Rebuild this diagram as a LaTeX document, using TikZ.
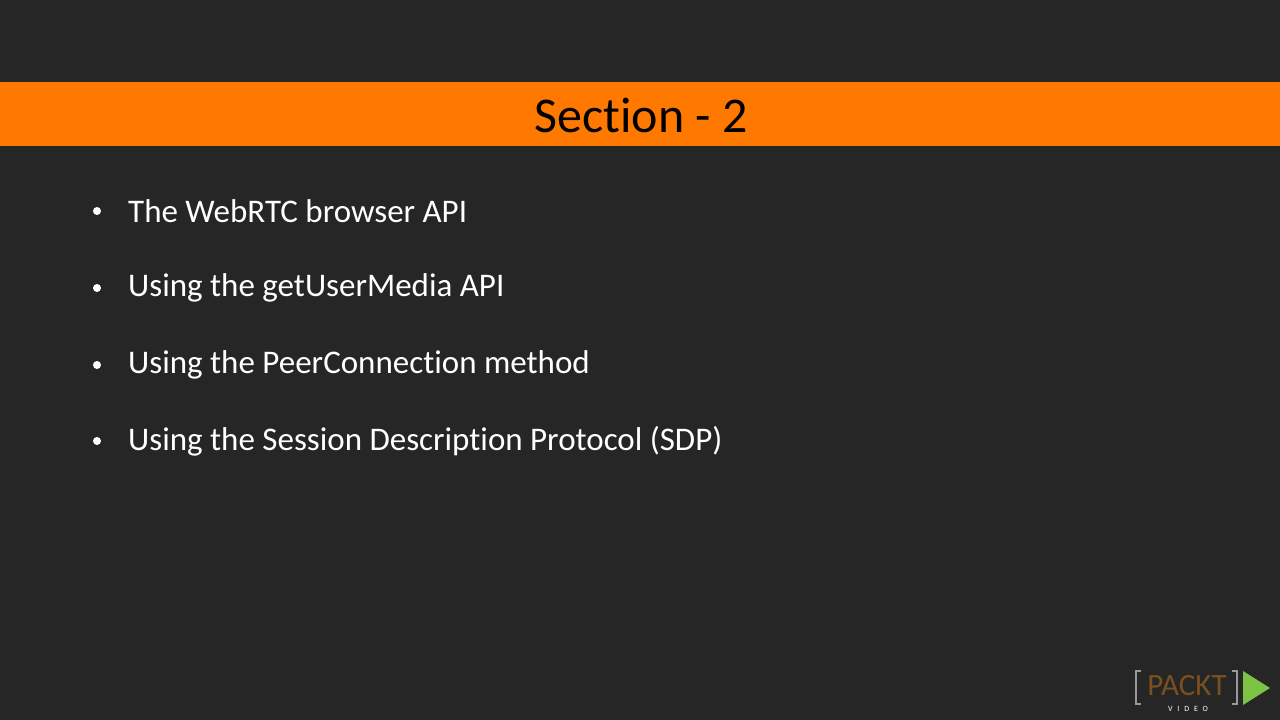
\documentclass[tikz,border=0pt]{standalone}
\usepackage{fontspec}
\setmainfont[Ligatures={NoCommon}]{Carlito}
\definecolor{bg}{HTML}{262626}
\definecolor{bar}{HTML}{FF7800}
\definecolor{packt}{HTML}{7A5020}
\definecolor{grn}{HTML}{7DC242}
\tikzset{item/.style={anchor=west,text=white,font=\fontsize{33}{38}\selectfont,inner sep=0pt},
dot/.style={circle,fill=white,inner sep=0pt,minimum size=8pt}}
\begin{document}
\begin{tikzpicture}[x=1pt,y=-1pt]
\fill[bg] (0,0) rectangle (1280,720);
\useasboundingbox (0,0) rectangle (1280,720);
\fill[bar] (0,82) rectangle (1280,146);
\node[font=\fontsize{50}{54}\selectfont,text=black] (title) at (641,115) {Section - 2};
\foreach \y/\t [count=\i] in {211/The WebRTC browser API,288/Using the getUserMedia API,365/Using the PeerConnection method,441/Using the Session Description Protocol (SDP)}{
 \node[dot] (d\i) at (97,\y) {};
 \node[item] (t\i) at (128,\y) {\t};
}
\draw[line width=2.5pt,gray!80] (1141,671)--(1136,671)--(1136,704)--(1141,704);
\draw[line width=2.5pt,gray!80] (1232,671)--(1237,671)--(1237,704)--(1232,704);
\node[text=packt,font=\fontsize{31}{31}\selectfont,inner sep=0pt] (pk) at (1187,686) {PACKT};
\node[text=white,font=\fontsize{8}{8}\selectfont\addfontfeatures{LetterSpace=60},inner sep=0pt] (vd) at (1188,709) {VIDEO};
\fill[grn] (1243,671)--(1270,688)--(1243,705)--cycle;
\end{tikzpicture}
\end{document}
